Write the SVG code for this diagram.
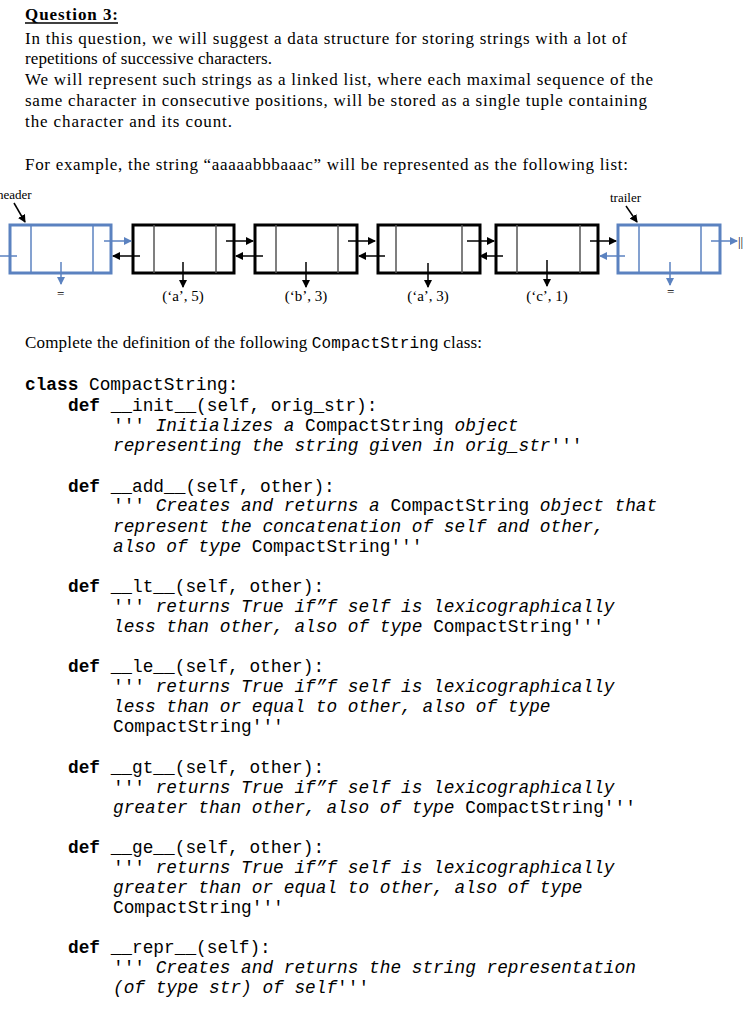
<svg xmlns="http://www.w3.org/2000/svg" width="751" height="1024" viewBox="0 0 751 1024">
<defs>
<marker id="ab" markerWidth="8" markerHeight="8" refX="7" refY="4" orient="auto" markerUnits="userSpaceOnUse"><path d="M0,0 L8,4 L0,8 z" fill="#000"/></marker>
<marker id="abl" markerWidth="8" markerHeight="8" refX="7" refY="4" orient="auto" markerUnits="userSpaceOnUse"><path d="M0,0 L8,4 L0,8 z" fill="#5b82c0"/></marker>
</defs>
<style>
.t{font-family:"Liberation Serif","DejaVu Serif",serif;font-size:17px;fill:#000}
.s{font-family:"Liberation Serif",serif;font-size:13px;fill:#000}
.l{font-family:"Liberation Serif",serif;font-size:15px;fill:#000}
.c{font-family:"Liberation Mono","Courier New",monospace;font-size:17.8px;fill:#000;white-space:pre}
.ci{font-family:"Liberation Mono","Courier New",monospace;font-size:16px}
.i{font-style:italic}
.b{font-weight:bold}
.nb{fill:#fff;stroke:#000;stroke-width:3}
.nl{stroke:#555;stroke-width:1.5}
.hb{fill:#fff;stroke:#5b82c0;stroke-width:3}
.hl{stroke:#5b82c0;stroke-width:1.5}
.a{stroke:#000;stroke-width:1.5;fill:none;marker-end:url(#ab)}
.ab{stroke:#5b82c0;stroke-width:1.5;fill:none;marker-end:url(#abl)}
</style>
<text class="t b" x="25" y="20" textLength="93">Question 3:</text>
<line x1="25" y1="23" x2="118" y2="23" stroke="#000" stroke-width="1.3"/>
<text class="t" x="25" y="44" textLength="602">In this question, we will suggest a data structure for storing strings with a lot of</text>
<text class="t" x="25" y="64" textLength="247">repetitions of successive characters.</text>
<text class="t" x="25" y="85" textLength="628">We will represent such strings as a linked list, where each maximal sequence of the</text>
<text class="t" x="25" y="106" textLength="622">same character in consecutive positions, will be stored as a single tuple containing</text>
<text class="t" x="25" y="127" textLength="207">the character and its count.</text>
<text class="t" x="25" y="170" textLength="603">For example, the string “aaaaabbbaaac” will be represented as the following list:</text>

<g id="header"><text class="s" x="-3" y="199">header</text><rect class="hb" x="10" y="225" width="101" height="48"/><line class="hl" x1="31" y1="225" x2="31" y2="273"/><line class="hl" x1="93" y1="225" x2="93" y2="273"/><text x="57" y="298" class="s">=</text></g>
<g id="n1"><rect class="nb" x="133" y="225" width="101" height="48"/><line class="nl" x1="154" y1="225" x2="154" y2="273"/><line class="nl" x1="216" y1="225" x2="216" y2="273"/><text class="l" x="183" y="301" text-anchor="middle">(‘a’, 5)</text></g>
<g id="n2"><rect class="nb" x="255" y="225" width="102" height="48"/><line class="nl" x1="276" y1="225" x2="276" y2="273"/><line class="nl" x1="338" y1="225" x2="338" y2="273"/><text class="l" x="306" y="301" text-anchor="middle">(‘b’, 3)</text></g>
<g id="n3"><rect class="nb" x="378" y="225" width="102" height="48"/><line class="nl" x1="396" y1="225" x2="396" y2="273"/><line class="nl" x1="462" y1="225" x2="462" y2="273"/><text class="l" x="428" y="301" text-anchor="middle">(‘a’, 3)</text></g>
<g id="n4"><rect class="nb" x="496" y="225" width="102" height="48"/><line class="nl" x1="517" y1="225" x2="517" y2="273"/><line class="nl" x1="580" y1="225" x2="580" y2="273"/><text class="l" x="547" y="301" text-anchor="middle">(‘c’, 1)</text></g>
<g id="trailer"><text class="s" x="610" y="202">trailer</text><rect class="hb" x="618" y="225" width="102" height="48"/><line class="hl" x1="639" y1="225" x2="639" y2="273"/><line class="hl" x1="701" y1="225" x2="701" y2="273"/><text x="667" y="296" class="s">=</text><text x="738" y="246" class="s" font-size="11">||</text></g>

<g id="connectors">
<path class="a" d="M14,203 L25,222"/>
<path class="a" d="M626,206 L637,222"/>
<path class="ab" d="M104,241 L131,241"/>
<path class="a" d="M226,241 L253,241"/>
<path class="a" d="M348,241 L375,241"/>
<path class="a" d="M467,241 L494,241"/>
<path class="a" d="M590,241 L616,241"/>
<path class="ab" d="M711,241 L737,241"/>
<path class="a" d="M140,256 L113,256"/>
<path class="a" d="M263,256 L236,256"/>
<path class="a" d="M385,256 L359,256"/>
<path class="a" d="M503,256 L480,256"/>
<path class="ab" d="M625,256 L600,256"/>
<line class="hl" x1="0" y1="256" x2="17" y2="256"/>
<path class="ab" d="M61,262 L61,284"/>
<path class="a" d="M183,262 L183,287"/>
<path class="a" d="M306,262 L306,287"/>
<path class="a" d="M428,263 L428,287"/>
<path class="a" d="M547,260 L547,286"/>
<path class="ab" d="M670,262 L670,285"/>
</g>

<text class="t" x="25" y="348" textLength="457">Complete the definition of the following <tspan class="ci">CompactString</tspan> class:</text>

<text class="c" x="25" y="390"><tspan class="b">class</tspan> CompactString:</text>
<text class="c" x="68" y="411"><tspan class="b">def</tspan> __init__(self, orig_str):</text>
<text class="c i" x="113" y="431"><tspan font-style="normal">'''</tspan> Initializes a <tspan font-style="normal">CompactString</tspan> object</text>
<text class="c i" x="113" y="451">representing the string given in orig_str<tspan font-style="normal">'''</tspan></text>
<text class="c" x="68" y="492"><tspan class="b">def</tspan> __add__(self, other):</text>
<text class="c i" x="113" y="511"><tspan font-style="normal">'''</tspan> Creates and returns a <tspan font-style="normal">CompactString</tspan> object that</text>
<text class="c i" x="113" y="532">represent the concatenation of self and other,</text>
<text class="c i" x="113" y="552">also of type <tspan font-style="normal">CompactString'''</tspan></text>
<text class="c" x="68" y="592"><tspan class="b">def</tspan> __lt__(self, other):</text>
<text class="c i" x="113" y="612"><tspan font-style="normal">'''</tspan> returns True if”f self is lexicographically</text>
<text class="c i" x="113" y="632">less than other, also of type <tspan font-style="normal">CompactString'''</tspan></text>
<text class="c" x="68" y="672"><tspan class="b">def</tspan> __le__(self, other):</text>
<text class="c i" x="113" y="692"><tspan font-style="normal">'''</tspan> returns True if”f self is lexicographically</text>
<text class="c i" x="113" y="712">less than or equal to other, also of type</text>
<text class="c" x="113" y="732">CompactString'''</text>
<text class="c" x="68" y="773"><tspan class="b">def</tspan> __gt__(self, other):</text>
<text class="c i" x="113" y="793"><tspan font-style="normal">'''</tspan> returns True if”f self is lexicographically</text>
<text class="c i" x="113" y="813">greater than other, also of type <tspan font-style="normal">CompactString'''</tspan></text>
<text class="c" x="68" y="853"><tspan class="b">def</tspan> __ge__(self, other):</text>
<text class="c i" x="113" y="873"><tspan font-style="normal">'''</tspan> returns True if”f self is lexicographically</text>
<text class="c i" x="113" y="893">greater than or equal to other, also of type</text>
<text class="c" x="113" y="913">CompactString'''</text>
<text class="c" x="68" y="953"><tspan class="b">def</tspan> __repr__(self):</text>
<text class="c i" x="113" y="973"><tspan font-style="normal">'''</tspan> Creates and returns the string representation</text>
<text class="c i" x="113" y="993">(of type str) of self<tspan font-style="normal">'''</tspan></text>
</svg>
